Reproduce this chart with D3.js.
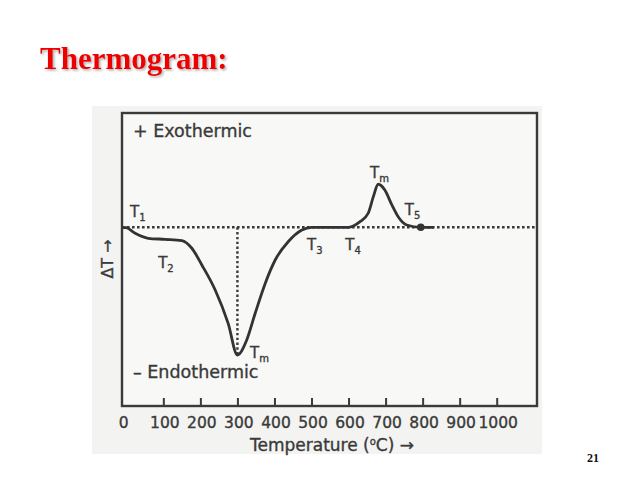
<!DOCTYPE html>
<html>
<head>
<meta charset="utf-8">
<script src="https://cdn.jsdelivr.net/npm/d3@7"></script>
<style>
  body { margin: 0; background: #fff; }
  svg text.fig { font-family: "DejaVu Sans", sans-serif; fill: #3a3a3a; stroke: #3a3a3a; stroke-width: 0.35px; }
</style>
</head>
<body>
<svg id="chart" width="638" height="478"></svg>
<script>
// thermogram curve (temperature in °C, ΔT in arbitrary units)
const temps  = [-11, 0, 24, 59, 105, 150, 177, 204, 240, 275, 300, 325, 348, 375, 402, 437, 474, 500,
                600, 631, 653, 667, 680, 698, 717, 734, 757, 795, 830];
const deltaT = [0, -0.03, -0.47, -0.86, -0.94, -1.04, -1.64, -2.95, -4.91, -7.52, -10, -8.83, -6.73, -4.39, -2.56, -1.13, -0.21, 0,
                0, 0.44, 1.10, 2.40, 3.37, 2.92, 1.75, 0.83, 0.18, 0, 0];

const xTicks = [0, 100, 200, 300, 400, 500, 600, 700, 800, 900, 1000];

// transition points and region names
const markNames = ["1", "2", "m", "3", "4", "m", "5"];
const markTemps = [10, 86, 334, 488, 591, 658, 752];
const markDT    = [0.81, -3.19, -10.24, -1.78, -1.78, 3.86, 0.96];

const minTemp = 300, minDT = -10;   // endothermic minimum (dotted drop line)
const endTemp = 795;                // T5 dot

const BOX = { left: 122, right: 537, top: 113, bottom: 406 };

const svg = d3.select("#chart");

const shadow = svg.append("defs").append("filter").attr("id", "shadow")
  .attr("x", "-5%").attr("y", "-20%").attr("width", "110%").attr("height", "140%");
shadow.append("feDropShadow").attr("dx", 1.5).attr("dy", 1.5).attr("stdDeviation", 0.8)
  .attr("flood-color", "#777").attr("flood-opacity", 0.6);

// title + page number
svg.append("text").attr("x", 40).attr("y", 69)
  .attr("filter", "url(#shadow)")
  .style("font-family", "'Liberation Serif', serif").style("font-weight", "bold")
  .style("font-size", "31px").style("fill", "#ee0000")
  .text("Thermogram:");
svg.append("text").attr("x", 587).attr("y", 462)
  .style("font-family", "'Liberation Serif', serif").style("font-weight", "bold")
  .style("font-size", "12px").style("fill", "#111")
  .text("21");

// scanned-figure background
svg.append("rect").attr("x", 92).attr("y", 106).attr("width", 450).attr("height", 348)
  .attr("fill", "#f3f3f1");
svg.append("rect").attr("x", BOX.left).attr("y", BOX.top)
  .attr("width", BOX.right - BOX.left).attr("height", BOX.bottom - BOX.top)
  .attr("fill", "#f8f8f6");

const x = d3.scaleLinear().domain([-11.6, 1108.8]).range([BOX.left, BOX.right]);
const y = d3.scaleLinear().domain([-13.99, 8.95]).range([BOX.bottom, BOX.top]);

// baseline (dotted)
svg.append("line")
  .attr("x1", BOX.left).attr("x2", BOX.right).attr("y1", y(0)).attr("y2", y(0))
  .attr("stroke", "#3a3a3a").attr("stroke-width", 2.6).attr("stroke-dasharray", "2.6,2.4");

// drop line at the minimum
svg.append("line")
  .attr("x1", x(minTemp)).attr("x2", x(minTemp)).attr("y1", y(0)).attr("y2", y(minDT))
  .attr("stroke", "#3a3a3a").attr("stroke-width", 2.4).attr("stroke-dasharray", "2.4,2.4");

const pts = temps.map((t, i) => [t, deltaT[i]]);
const line = d3.line().x(d => x(d[0])).y(d => y(d[1])).curve(d3.curveMonotoneX);
svg.append("path").datum(pts).attr("d", line)
  .attr("fill", "none").attr("stroke", "#333").attr("stroke-width", 2.8)
  .attr("stroke-linejoin", "round");

svg.append("circle").attr("cx", x(endTemp)).attr("cy", y(0)).attr("r", 3.8).attr("fill", "#333");

// frame
svg.append("rect").attr("x", BOX.left).attr("y", BOX.top)
  .attr("width", BOX.right - BOX.left).attr("height", BOX.bottom - BOX.top)
  .attr("fill", "none").attr("stroke", "#3a3a3a").attr("stroke-width", 2.4);

// x axis: short inward ticks
const xAxis = svg.append("g").attr("transform", `translate(0,${BOX.bottom})`)
  .call(d3.axisBottom(x).tickValues(xTicks).tickSize(-8).tickPadding(11).tickFormat(d3.format("d")));
xAxis.select(".domain").remove();
xAxis.selectAll(".tick line").attr("stroke", "#3a3a3a").attr("stroke-width", 2)
  .attr("opacity", d => d === 0 ? 0 : 1);
xAxis.selectAll(".tick text").attr("class", "fig")
  .style("font-size", "15.5px").attr("dy", "0.71em")
  .attr("dx", d => d === 0 ? -3 : 1);

// axis titles
const xt = svg.append("text").attr("class", "fig").attr("x", 332).attr("y", 451)
  .attr("text-anchor", "middle").style("font-size", "17px");
xt.append("tspan").text("Temperature (");
xt.append("tspan").attr("dy", -6).style("font-size", "10px").text("o");
xt.append("tspan").attr("dy", 6).text("C) \u2192");

svg.append("text").attr("class", "fig").attr("transform", "translate(113,259) rotate(-90)")
  .attr("text-anchor", "middle").style("font-size", "16px")
  .text("\u0394T \u2192");

// region labels
svg.append("text").attr("class", "fig").attr("x", 133).attr("y", 137)
  .style("font-size", "17.5px").text("+ Exothermic");
svg.append("text").attr("class", "fig").attr("x", 133).attr("y", 378)
  .style("font-size", "17.5px").text("\u2013 Endothermic");

// T labels
markNames.forEach((n, i) => {
  const t = svg.append("text").attr("class", "fig")
    .attr("x", x(markTemps[i])).attr("y", y(markDT[i]))
    .style("font-size", "15px");
  t.append("tspan").text("T");
  t.append("tspan").attr("dy", 4).style("font-size", "10px").text(n);
});
</script>
</body>
</html>
